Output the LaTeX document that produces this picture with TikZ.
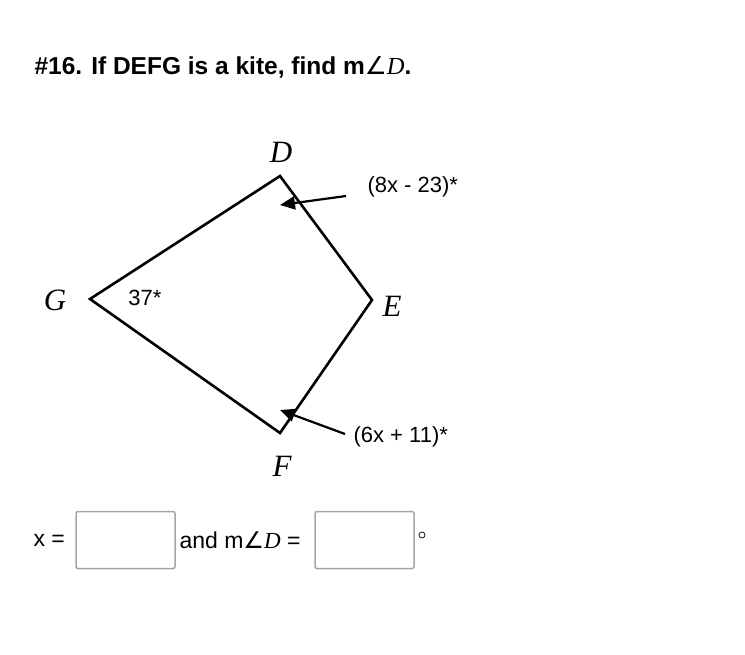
\documentclass[tikz,border=0pt]{standalone}
\usepackage{fontspec}
\setmainfont{Liberation Sans}
\newfontfamily\serifit{Liberation Serif}
\newfontfamily\djsym{DejaVu Sans}
\usetikzlibrary{arrows.meta}
\begin{document}
\begin{tikzpicture}[x=1pt,y=-1pt,
  vlab/.style={font=\fontsize{31}{33}\selectfont\serifit\itshape},
  hand/.style={font=\fontsize{22}{25}\selectfont},
  ansbox/.style={draw=gray!70,line width=1.5pt,rounded corners=2pt,minimum width=99pt,minimum height=57pt},
  side/.style={line width=2.6pt},
  ptr/.style={line width=2.2pt,-{Triangle[length=15pt,width=13pt]}}]
\useasboundingbox (0,0) rectangle (745,654);
\node[anchor=west,font=\fontsize{24.5}{27}\selectfont\bfseries] (title) at (31,67) {\#16. If DEFG is a kite, find m{\djsym\mdseries∠}{\serifit\itshape\mdseries D}.};
\coordinate (D) at (280,176);
\coordinate (E) at (372,300);
\coordinate (F) at (280,433);
\coordinate (G) at (90,299);
\draw[side,line join=miter] (D) -- (E) -- (F) -- (G) -- cycle;
\node[vlab] (lD) at (281,152) {D};
\node[vlab] (lE) at (392,306) {E};
\node[vlab] (lF) at (282,466) {F};
\node[vlab] (lG) at (55,300) {G};
\node[hand] (a37) at (145,298) {37*};
\node[hand,anchor=west] (lab1) at (364,187) {(8x - 23)*};
\node[hand,anchor=west] (lab2) at (350,437) {(6x + 11)*};
\coordinate (t1) at (346,196);
\coordinate (h1) at (280,205);
\coordinate (t2) at (345,434);
\coordinate (h2) at (280,410);
\draw[ptr] (t1) -- (h1);
\draw[ptr] (t2) -- (h2);
\node[anchor=west,font=\fontsize{23}{26}\selectfont] (xeq) at (30,540) {x =};
\node[ansbox] (b1) at (125.5,540) {};
\node[anchor=west,font=\fontsize{23}{26}\selectfont] (andm) at (176,540) {and m{\djsym∠}{\serifit\itshape D} =};
\node[ansbox] (b2) at (364.5,540) {};
\node[circle,draw,inner sep=0pt,minimum size=6pt,line width=0.7pt] (deg) at (422,535) {};
\end{tikzpicture}
\end{document}
